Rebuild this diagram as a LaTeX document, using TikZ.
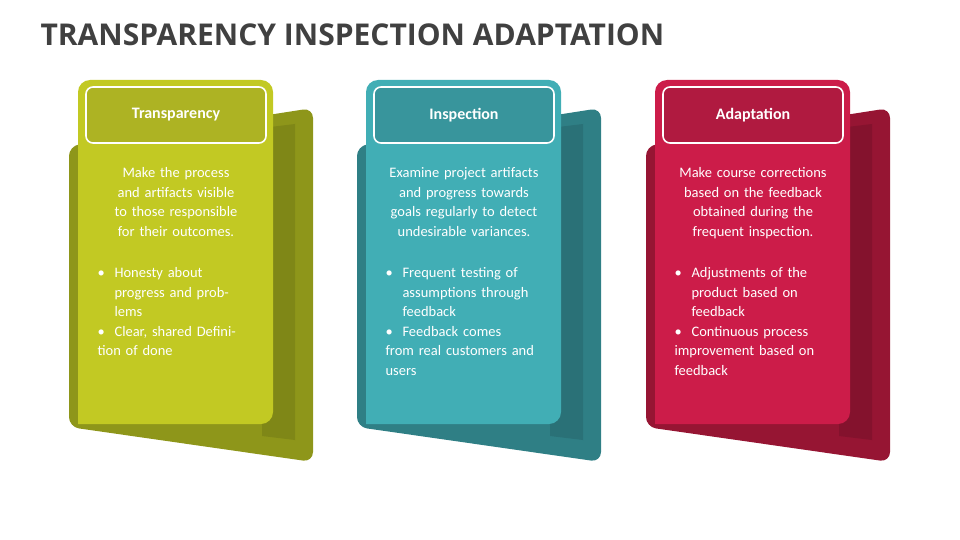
\documentclass[tikz,border=0pt]{standalone}
\usepackage{fontspec}
\setmainfont{Carlito}
\newfontfamily\headfont{Open Sans}
\usetikzlibrary{positioning}

\definecolor{headgray}{HTML}{404040}
\definecolor{olvmain}{HTML}{C2C923}
\definecolor{olvback}{HTML}{8E961A}
\definecolor{olvdark}{HTML}{7F8717}
\definecolor{olvtitle}{HTML}{ADB323}
\definecolor{tealmain}{HTML}{41AEB5}
\definecolor{tealback}{HTML}{2F7F85}
\definecolor{tealdark}{HTML}{2A7177}
\definecolor{tealtitle}{HTML}{38959C}
\definecolor{redmain}{HTML}{CC1C49}
\definecolor{redback}{HTML}{961533}
\definecolor{reddark}{HTML}{84122D}
\definecolor{redtitle}{HTML}{B01A40}

\tikzset{
  cardtitle/.style={draw=white,line width=1.6pt,rounded corners=7pt,minimum width=180pt,
                    minimum height=56pt,text=white,font=\fontsize{16}{18}\selectfont\bfseries},
  cardtext/.style={text=white,align=center,text width=150pt,anchor=north,
                   font=\fontsize{14.5}{19.5}\selectfont},
  cardlist/.style={text=white,align=left,text width=150pt,anchor=north west,
                   font=\fontsize{14.5}{19.5}\selectfont}
}

% #1 shift, #2 main, #3 back, #4 dark, #5 title fill, #6 name, #7 title, #8 paragraph, #9 bullets
\newcommand\tiacard[9]{
  \begin{scope}[xshift=#1pt]
    \fill[#3,rounded corners=10pt] (69,146) -- (69,427) -- (313,462) -- (313,108) -- cycle;
    \fill[#4] (262,128) -- (295,124) -- (295,440) -- (262,436) -- cycle;
    \fill[#2,rounded corners=12pt] (78,424) -- (78,80) -- (273,80) -- (273,424) [sharp corners] -- cycle;
    \node[cardtitle,fill=#5] (#6-title) at (176,115) {#7};
    \node[cardtext] (#6-text) at (176,164) {#8};
    \node[cardlist] (#6-list) at (94,264) {#9};
  \end{scope}
}
\newcommand\tiaitem{\makebox[17pt][l]{\textbullet}}

\begin{document}
\begin{tikzpicture}[x=1pt,y=-1pt]
  \useasboundingbox (0,0) rectangle (960,540);

  \node[anchor=west,text=headgray,font=\headfont\fontsize{30}{34}\selectfont\bfseries]
    (heading) at (37,35) {TRANSPARENCY INSPECTION ADAPTATION};

  \tiacard{0}{olvmain}{olvback}{olvdark}{olvtitle}{trans}{Transparency}
    {Make the process and artifacts visible to those responsible for their outcomes.}
    {\hangindent=17pt\tiaitem Honesty about progress and problems\par
     \hangindent=17pt\tiaitem Clear, shared Definition of done}
  \tiacard{288}{tealmain}{tealback}{tealdark}{tealtitle}{insp}{Inspection}
    {Examine project artifacts and progress towards goals regularly to detect undesirable variances.}
    {\hangindent=17pt\tiaitem Frequent testing of assumptions through feedback\par
     \hangindent=17pt\tiaitem Feedback comes from real customers and users}
  \tiacard{577}{redmain}{redback}{reddark}{redtitle}{adapt}{Adaptation}
    {Make course corrections based on the feedback obtained during the frequent inspection.}
    {\hangindent=17pt\tiaitem Adjustments of the product based on feedback\par
     \hangindent=17pt\tiaitem Continuous process improvement based on feedback}
\end{tikzpicture}
\end{document}
